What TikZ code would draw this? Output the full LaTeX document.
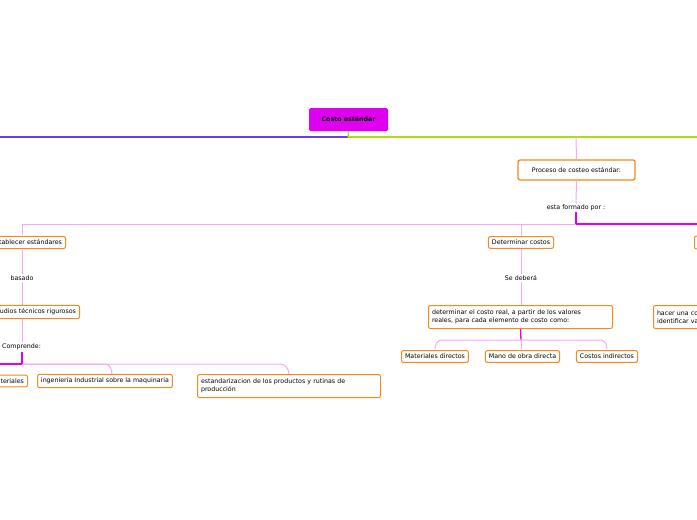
\documentclass[tikz,border=0pt]{standalone}
\usepackage{fontspec}
\setmainfont{DejaVu Sans}
\begin{document}
\begin{tikzpicture}[x=1pt,y=-1pt,
  box/.style={draw=orn,line width=1pt,rounded corners=2pt,fill=white,font=\fontsize{6.3}{8.5}\selectfont,inner sep=3.5pt,align=left},
  lbl/.style={font=\fontsize{6.3}{8}\selectfont,inner sep=1pt},
  pk/.style={draw=pnk,line width=1pt},
  mg/.style={draw=mag,line width=1.3pt}]
\definecolor{lime}{HTML}{A8E010}
\definecolor{blu}{HTML}{6040F0}
\definecolor{orn}{HTML}{F28A1E}
\definecolor{pnk}{HTML}{F5A8F5}
\definecolor{mag}{HTML}{E000F0}
\useasboundingbox (0,0) rectangle (697,520);
\clip (0,0) rectangle (697,520);
\node[fill=mag,rounded corners=1.5pt,minimum width=79pt,minimum height=23pt,font=\bfseries\fontsize{6.3}{8}\selectfont] (root) at (348.5,119.5) {Costo estándar};
\coordinate (j) at (348,137);
\draw[blu,line width=1.3pt] (j) -- (0,137);
\draw[lime,line width=1.3pt] (j) -- (697,137);
\draw[lime,line width=1.3pt] (root.south) -- (j);
\node[box,minimum width=117pt,minimum height=20pt,align=center,line width=1.3pt] (proc) at (576.5,170) {Proceso de costeo estándar:};
\draw[pk] (576,137) -- (proc.north);
\node[lbl] (esta) at (576,208) {esta formado por :};
\draw[pk] (proc.south) -- (esta.north);
\draw[mg] (esta.south) -- (576,224);
\draw[pk] (22,224) -- (576,224);
\draw[mg] (576,224) -- (697,224);
% left branch
\node[box,anchor=east] (est) at (66,242.5) {Establecer estándares};
\draw[pk] (22,224) -- (22,235);
\node[lbl] (bas) at (22,278) {basado};
\draw[pk] (22,250) -- (bas.north) (bas.south) -- (22,305);
\node[box,anchor=east] (estu) at (80,312) {Estudios técnicos rigurosos};
\node[lbl,anchor=west] (comp) at (1,347) {Comprende:};
\draw[pk] (22,319) -- (22,342);
\node[box,anchor=east] (mat) at (28,381) {Materiales};
\node[box,anchor=west] (ing) at (37,381) {ingeniería Industrial sobre la maquinaria};
\node[box,anchor=north west,text width=176pt,minimum height=23pt] (estd) at (197,374) {estandarizacion de los productos y rutinas de\\producción};
\draw[pk] (22,364) -- (105,364) to[out=0,in=90] (112,374);
\draw[pk] (22,364) -- (280,364) to[out=0,in=90] (289,374);
\draw[mg] (0,364) -- (22,364);
\draw[mg] (22,352) -- (22,364);
% middle
\node[box] (det) at (521,242.5) {Determinar costos};
\draw[pk] (521,224) -- (det.north);
\node[lbl] (se) at (521,278) {Se deberá};
\draw[pk] (det.south) -- (se.north) (se.south) -- (521,305);
\node[box,anchor=north west,text width=177pt,minimum height=23pt] (real) at (428,305) {determinar el costo real, a partir de los valores\\reales, para cada elemento de costo como:};
\draw[mg] (real.south) -- (521,340);
\node[box] (md) at (435,356.5) {Materiales directos};
\node[box] (mo) at (522.5,356.5) {Mano de obra directa};
\node[box] (ci) at (607,356.5) {Costos indirectos};
\draw[pk] (521,340) -- (442,340) to[out=180,in=90] (435,349);
\draw[pk] (521,340) -- (600,340) to[out=0,in=90] (607,349);
\draw[pk] (521,340) -- (521,349);
% right
\node[box,anchor=west] (cmp) at (694,242.5) {Comparar};
\node[box,anchor=north west,text width=150pt,minimum height=23pt] (hac) at (653,305) {hacer una comparación\\identificar variaciones};
\end{tikzpicture}
\end{document}
